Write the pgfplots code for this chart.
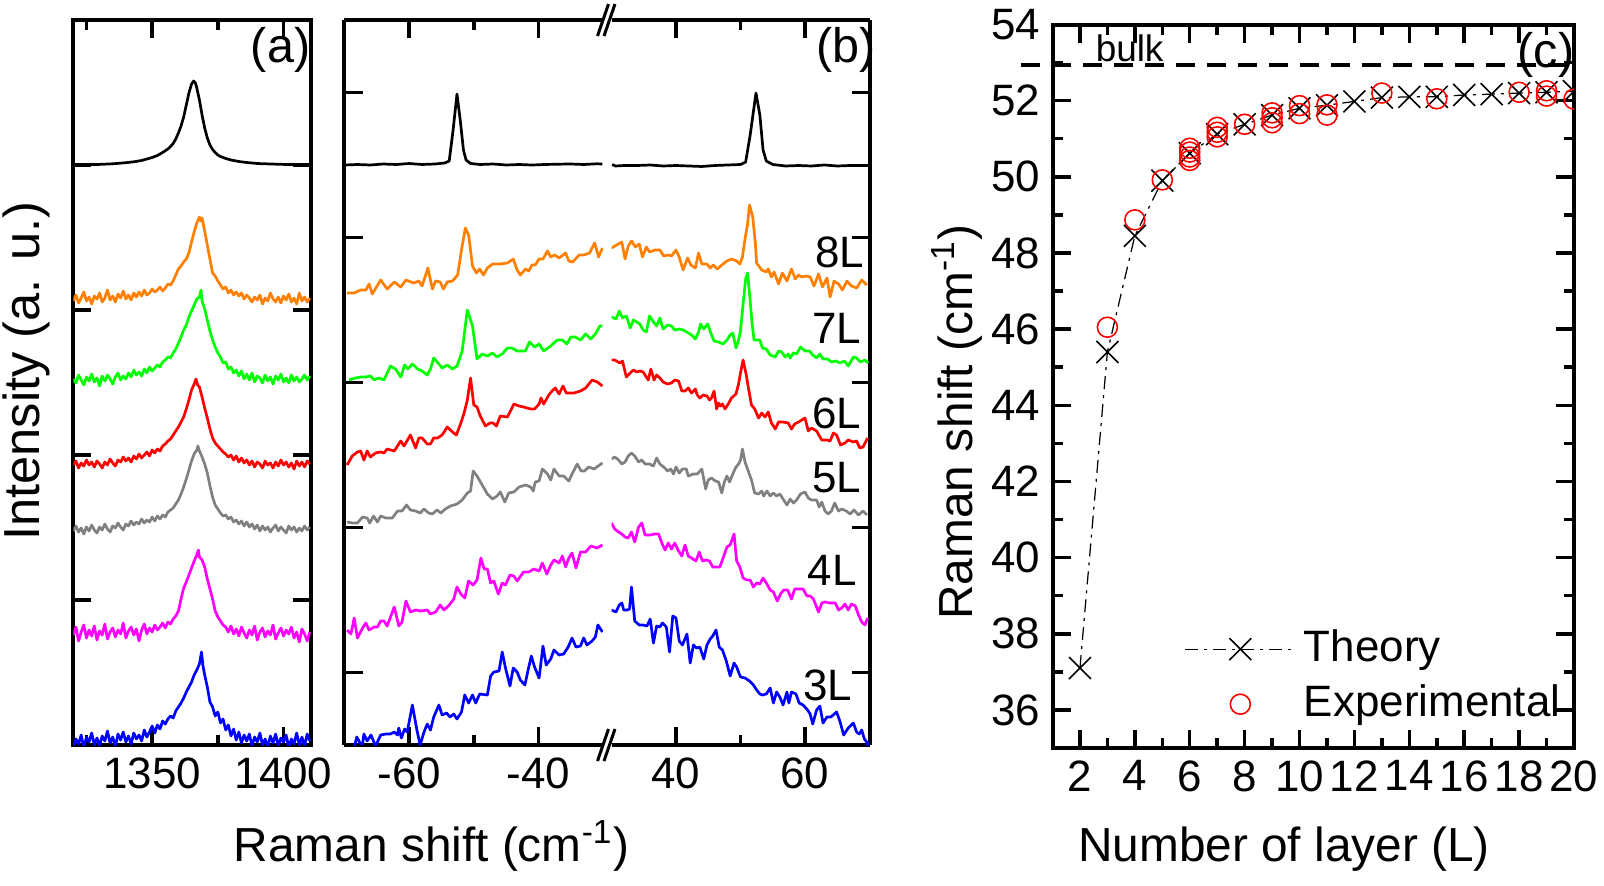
\documentclass[border=0pt]{standalone}
\usepackage{fontspec}
\setmainfont{Liberation Sans}
\usepackage{pgfplots}
\pgfplotsset{compat=1.18}
\definecolor{corange}{RGB}{255,128,0}
\definecolor{cgreen}{RGB}{0,255,0}
\definecolor{cred}{RGB}{255,0,0}
\definecolor{cgray}{RGB}{128,128,128}
\definecolor{cmag}{RGB}{255,0,255}
\definecolor{cblue}{RGB}{0,0,255}
\newcommand{\fs}{\fontsize{13.8pt}{16pt}\selectfont}
\newcommand{\fst}{\fontsize{13.6pt}{16pt}\selectfont}
\newcommand{\fsk}{\fontsize{12.5pt}{14pt}\selectfont}
\pgfplotsset{
  base/.style={scale only axis, anchor=south west, font=\fs,
    clip mode=individual,
    tick label style={font=\fsk},
    tick align=inside, axis line style={line width=0.4mm},
    every tick/.style={black, line width=0.35mm},
    major tick length=1.8mm, minor tick length=1.0mm},
  trace/.style={line width=0.27mm, line join=round, no markers},
  theoryleg/.style={legend image code/.code={\draw[mark repeat=2, mark phase=2, ##1] plot coordinates {(0cm,0cm) (0.55cm,0cm) (1.1cm,0cm)};}},
  expleg/.style={legend image code/.code={\draw[##1] plot coordinates {(0.55cm,0cm)};}},
}
\begin{document}
\begin{tikzpicture}
\useasboundingbox (0,0) rectangle (160.4mm,88.5mm);
% ---------------- panel (a)
\begin{axis}[base, at={(7.33mm,14.0mm)}, width=23.78mm, height=72.5mm,
  xmin=1320, xmax=1410.5, ymin=0, ymax=725,
  xtick={1350,1400}, xticklabels={1350,1400}, minor xtick={1325,1375},
  ytick={145,290,435,580}, yticklabels={}]
\addplot[trace, black] coordinates {(1320,580) (1325,580.3) (1330,580.6) (1335,581.2) (1340,582.3) (1343,583.2) (1346,584.5) (1348,586) (1350,587.5) (1352,589.5) (1354,592.5) (1356,596) (1357,598.5) (1358,601.5) (1359,606) (1360,612) (1361,619) (1362,628) (1363,640) (1364,652) (1365,661) (1365.8,664) (1366.5,662) (1367,657) (1368,645) (1369,630) (1370,617) (1371,607) (1372,600) (1373,595.5) (1374,592.5) (1375,590) (1376,588.5) (1378,586.5) (1380,585) (1383,583.5) (1386,582.5) (1390,581.5) (1395,581) (1400,580.6) (1405,580.5) (1410.5,580.4)};
\addplot[trace, corange] coordinates {(1320,444) (1321,450) (1322,442) (1323,447) (1324,453) (1325,444) (1326,448) (1327,441) (1328,449) (1329,446) (1330,452) (1331,443) (1332,447) (1333,455) (1334,445) (1335,449) (1336,443) (1337,451) (1338,447) (1339,454) (1340,446) (1341,450) (1342,445) (1343,452) (1344,448) (1345,453) (1346,449) (1347,455) (1348,450) (1349,452) (1350,456) (1351,453) (1352,455) (1353,458) (1354,454) (1355,457) (1356,461) (1357,460) (1358,464) (1359,470) (1360,476) (1361,479) (1362,483) (1363,486) (1364,492) (1365,503) (1366,513) (1367,522) (1368,528) (1368.5,524) (1369,527) (1370,514) (1371,500) (1372,486) (1373,472) (1374,469) (1375,464) (1376,460) (1377,456) (1378,458) (1379,452) (1380,455) (1381,450) (1382,453) (1383,449) (1384,452) (1385,446) (1386,450) (1387,447) (1388,443) (1389,448) (1390,445) (1391,450) (1392,441) (1393,447) (1394,444) (1395,452) (1396,446) (1397,443) (1398,448) (1399,442) (1400,449) (1401,445) (1402,451) (1403,443) (1404,447) (1405,441) (1406,452) (1407,444) (1408,448) (1409,443) (1410,447)};
\addplot[trace, cgreen] coordinates {(1320,366) (1321,362) (1322,370) (1323,365) (1324,360) (1325,368) (1326,364) (1327,371) (1328,363) (1329,367) (1330,359) (1331,369) (1332,364) (1333,370) (1334,366) (1335,361) (1336,368) (1337,372) (1338,365) (1339,369) (1340,366) (1341,372) (1342,368) (1343,375) (1344,370) (1345,373) (1346,369) (1347,376) (1348,372) (1349,378) (1350,374) (1351,377) (1352,380) (1353,378) (1354,383) (1355,385) (1356,388) (1357,387) (1358,392) (1359,396) (1360,402) (1361,408) (1362,415) (1363,420) (1364,428) (1365,434) (1366,440) (1367,446) (1368,448) (1368.6,455) (1369,444) (1370,436) (1371,425) (1372,414) (1373,405) (1374,398) (1375,392) (1376,388) (1377,382) (1378,383) (1379,376) (1380,378) (1381,372) (1382,375) (1383,369) (1384,374) (1385,366) (1386,371) (1387,365) (1388,372) (1389,363) (1390,369) (1391,367) (1392,362) (1393,370) (1394,364) (1395,368) (1396,361) (1397,369) (1398,365) (1399,371) (1400,363) (1401,367) (1402,362) (1403,370) (1404,364) (1405,368) (1406,363) (1407,366) (1408,370) (1409,365) (1410,369)};
\addplot[trace, cred] coordinates {(1320,280) (1321,284) (1322,277) (1323,282) (1324,279) (1325,285) (1326,280) (1327,283) (1328,278) (1329,284) (1330,281) (1331,277) (1332,283) (1333,280) (1334,286) (1335,282) (1336,279) (1337,285) (1338,283) (1339,288) (1340,284) (1341,287) (1342,283) (1343,289) (1344,286) (1345,291) (1346,287) (1347,290) (1348,293) (1349,289) (1350,295) (1351,292) (1352,296) (1353,294) (1354,299) (1355,301) (1356,304) (1357,306) (1358,310) (1359,314) (1360,318) (1361,323) (1362,328) (1363,336) (1364,345) (1365,355) (1366,361) (1366.7,366) (1367.3,360) (1368,358) (1369,348) (1370,337) (1371,327) (1372,316) (1373,307) (1374,302) (1375,299) (1376,296) (1377,293) (1378,291) (1379,288) (1380,290) (1381,285) (1382,289) (1383,283) (1384,287) (1385,282) (1386,285) (1387,280) (1388,284) (1389,278) (1390,283) (1391,281) (1392,277) (1393,284) (1394,280) (1395,282) (1396,277) (1397,283) (1398,279) (1399,285) (1400,280) (1401,283) (1402,278) (1403,282) (1404,276) (1405,284) (1406,279) (1407,283) (1408,278) (1409,284) (1410,281)};
\addplot[trace, cgray] coordinates {(1320,214) (1321,219) (1322,213) (1323,217) (1324,211) (1325,218) (1326,214) (1327,220) (1328,215) (1329,212) (1330,218) (1331,215) (1332,221) (1333,216) (1334,213) (1335,219) (1336,217) (1337,222) (1338,218) (1339,215) (1340,221) (1341,219) (1342,224) (1343,220) (1344,223) (1345,221) (1346,226) (1347,222) (1348,225) (1349,223) (1350,228) (1351,224) (1352,229) (1353,226) (1354,230) (1355,228) (1356,233) (1357,235) (1358,237) (1359,241) (1360,245) (1361,251) (1362,258) (1363,266) (1364,275) (1365,284) (1366,291) (1367,295) (1367.4,299) (1368,294) (1369,288) (1370,281) (1371,272) (1372,259) (1373,248) (1374,240) (1375,236) (1376,232) (1377,229) (1378,230) (1379,226) (1380,228) (1381,223) (1382,225) (1383,221) (1384,224) (1385,219) (1386,223) (1387,218) (1388,221) (1389,216) (1390,220) (1391,214) (1392,219) (1393,215) (1394,218) (1395,213) (1396,217) (1397,220) (1398,214) (1399,218) (1400,215) (1401,212) (1402,219) (1403,215) (1404,218) (1405,213) (1406,217) (1407,214) (1408,219) (1409,215) (1410,218)};
\addplot[trace, cmag] coordinates {(1320,110) (1321,118) (1322,104) (1323,113) (1324,120) (1325,107) (1326,115) (1327,109) (1328,119) (1329,105) (1330,114) (1331,110) (1332,121) (1333,106) (1334,113) (1335,117) (1336,108) (1337,115) (1338,111) (1339,122) (1340,107) (1341,114) (1342,118) (1343,110) (1344,116) (1345,104) (1346,115) (1347,121) (1348,111) (1349,117) (1350,113) (1351,120) (1352,115) (1353,118) (1354,122) (1355,117) (1356,123) (1357,121) (1358,126) (1359,129) (1360,134) (1361,146) (1362,157) (1363,163) (1364,170) (1365,177) (1366,184) (1367,190) (1367.6,195) (1368,188) (1369,185) (1370,178) (1371,166) (1372,156) (1373,146) (1374,134) (1375,128) (1376,124) (1377,120) (1378,118) (1379,113) (1380,119) (1381,111) (1382,116) (1383,109) (1384,118) (1385,112) (1386,107) (1387,115) (1388,110) (1389,119) (1390,105) (1391,113) (1392,117) (1393,108) (1394,114) (1395,110) (1396,120) (1397,106) (1398,112) (1399,117) (1400,109) (1401,115) (1402,111) (1403,118) (1404,107) (1405,113) (1406,103) (1407,116) (1408,111) (1409,104) (1410,113)};
\addplot[trace, cblue] coordinates {(1320,-2) (1321,6) (1322,1) (1323,10) (1324,-3) (1325,8) (1326,3) (1327,12) (1328,0) (1329,7) (1330,-1) (1331,9) (1332,4) (1333,14) (1334,2) (1335,8) (1336,-2) (1337,11) (1338,5) (1339,13) (1340,3) (1341,9) (1342,1) (1343,12) (1344,6) (1345,10) (1346,4) (1347,15) (1348,8) (1349,13) (1350,19) (1351,12) (1352,20) (1353,16) (1354,24) (1355,21) (1356,26) (1357,29) (1358,27) (1359,34) (1360,38) (1361,42) (1362,47) (1363,53) (1364,58) (1365,63) (1366,70) (1367,75) (1368,81) (1368.8,93) (1369.3,80) (1370,70) (1371,58) (1372,43) (1373,38) (1374,29) (1375,33) (1376,22) (1377,26) (1378,15) (1379,20) (1380,9) (1381,16) (1382,5) (1383,13) (1384,2) (1385,10) (1386,4) (1387,11) (1388,-1) (1389,8) (1390,3) (1391,12) (1392,0) (1393,6) (1394,-2) (1395,9) (1396,2) (1397,11) (1398,-1) (1399,7) (1400,3) (1401,10) (1402,-2) (1403,6) (1404,1) (1405,12) (1406,0) (1407,8) (1408,-1) (1409,11) (1410,4)};
\node at (axis cs:1398.9,695) {(a)};
\end{axis}
% ---------------- panel (b) left half
\begin{axis}[base, at={(34.45mm,14.0mm)}, width=25.86mm, height=72.5mm,
  axis x line*=box, axis y line*=left,
  xmin=-70, xmax=-30, ymin=0, ymax=725,
  xtick={-60,-40}, xticklabels={-60,-40}, minor xtick={-50},
  ytick={72.5,217.5,362.5,507.5,652.5}, yticklabels={}]
\addplot[trace, black] coordinates {(-70,580) (-68,580.5) (-66,580) (-64,581) (-62,580.5) (-60,581.5) (-58,580.5) (-56,581) (-54.5,582) (-53.8,584) (-53.2,615) (-52.6,651) (-52.1,625) (-51.6,595) (-51.2,585) (-50.5,581.5) (-49,580.5) (-47,581) (-45,580) (-43,580.5) (-41,580) (-39,580.5) (-37,580.8) (-35,581) (-33,580.5) (-31,581.2) (-30.1,581)};
\addplot[trace, corange] coordinates {(-69.6,452) (-68.5,452) (-67.5,455) (-66.7,455) (-66.2,461) (-65.7,451) (-64.4,465) (-63.4,456) (-62.3,463) (-61.3,458) (-60.5,465) (-59.3,462) (-58.5,464) (-58.0,459) (-57.1,477) (-56.4,456) (-55.9,464) (-55.2,463) (-54.7,456) (-54.1,463) (-53.3,464) (-52.5,470) (-51.8,499) (-51.3,517) (-50.8,510) (-50.2,479) (-49.6,472) (-49.1,476) (-48.5,470) (-47.9,477) (-47.1,481) (-45.9,481) (-44.8,482) (-43.9,486) (-43.3,475) (-42.8,470) (-42.0,476) (-41.5,474) (-41.0,480) (-40.5,480) (-39.9,486) (-39.3,486) (-38.6,494) (-38.1,488) (-37.5,490) (-36.8,487) (-35.8,492) (-35.3,484) (-34.7,483) (-33.7,490) (-33.0,490) (-32.1,492) (-31.3,502) (-30.7,488) (-30.1,497)};
\addplot[trace, cgreen] coordinates {(-69.3,365) (-68.3,367) (-67.5,368) (-66.7,368) (-66.0,369) (-65.4,365) (-64.7,367) (-63.9,365) (-62.9,379) (-62.1,376) (-61.3,368) (-60.7,380) (-60.2,376) (-59.5,381) (-58.7,376) (-58.0,374) (-57.2,370) (-56.7,376) (-56.2,387) (-55.4,381) (-54.9,377) (-54.1,380) (-53.3,376) (-52.6,379) (-51.8,394) (-51.0,435) (-50.2,419) (-49.5,386) (-48.7,391) (-47.9,389) (-47.1,392) (-46.4,388) (-45.6,391) (-44.8,397) (-44.1,397) (-43.3,394) (-42.0,394) (-41.4,403) (-40.6,398) (-39.9,401) (-39.2,394) (-38.1,399) (-37.1,405) (-36.3,405) (-35.6,401) (-35.0,408) (-34.3,408) (-33.5,405) (-32.7,411) (-31.9,406) (-31.2,411) (-30.5,419) (-30.1,419)};
\addplot[trace, cred] coordinates {(-69.6,280) (-68.8,289) (-68.0,293) (-67.5,294) (-67.0,285) (-66.5,294) (-66.0,288) (-65.2,292) (-64.4,293) (-63.9,292) (-63.4,296) (-62.3,294) (-61.3,304) (-60.8,299) (-59.8,310) (-59.0,297) (-58.5,307) (-58.0,307) (-57.2,301) (-56.7,301) (-56.2,307) (-55.6,307) (-54.9,310) (-54.1,318) (-53.3,313) (-52.7,310) (-52.0,322) (-51.5,332) (-51.0,345) (-50.5,367) (-50.0,340) (-49.5,338) (-49.0,329) (-48.2,319) (-47.5,322) (-47.0,322) (-46.5,319) (-45.9,329) (-44.8,328) (-43.8,341) (-43.0,339) (-42.3,338) (-41.2,336) (-40.6,336) (-39.9,341) (-39.6,347) (-39.2,341) (-38.4,350) (-37.9,354) (-37.4,357) (-36.8,351) (-36.2,359) (-35.7,352) (-34.5,352) (-33.5,354) (-32.7,357) (-31.7,365) (-30.9,363) (-30.1,359)};
\addplot[trace, cgray] coordinates {(-69.6,223) (-68.8,222) (-68.0,222) (-67.2,228) (-66.5,227) (-66.1,222) (-65.5,229) (-64.9,223) (-64.4,229) (-63.6,227) (-62.6,227) (-61.8,234) (-61.1,234) (-60.4,240) (-59.8,235) (-59.0,234) (-58.3,232) (-57.7,236) (-57.0,232) (-56.4,231) (-55.7,235) (-55.1,232) (-54.4,236) (-53.6,239) (-52.6,241) (-51.8,245) (-51.0,252) (-50.5,254) (-50.1,274) (-49.5,269) (-48.7,260) (-47.9,251) (-47.1,246) (-46.4,249) (-45.9,253) (-45.2,243) (-44.6,252) (-43.8,253) (-43.0,258) (-42.0,260) (-41.2,258) (-40.8,254) (-40.5,263) (-39.9,264) (-39.4,276) (-38.6,271) (-38.1,265) (-37.6,276) (-36.8,269) (-36.1,269) (-35.3,264) (-34.8,271) (-34.0,281) (-33.4,274) (-32.9,274) (-32.2,278) (-31.4,276) (-30.1,282)};
\addplot[trace, cmag] coordinates {(-69.6,115) (-69.0,111) (-68.5,127) (-68.0,107) (-67.2,117) (-66.7,122) (-66.2,115) (-65.4,118) (-64.9,118) (-64.4,124) (-63.9,124) (-63.4,119) (-62.3,138) (-61.6,119) (-61.1,123) (-60.5,144) (-59.8,133) (-59.0,135) (-58.2,134) (-57.2,135) (-56.7,131) (-55.9,133) (-55.2,140) (-54.6,135) (-53.8,140) (-53.1,146) (-52.6,158) (-52.0,151) (-51.4,147) (-50.8,164) (-50.1,160) (-49.5,165) (-48.9,187) (-48.4,176) (-47.9,176) (-47.4,162) (-46.9,164) (-46.2,151) (-45.6,162) (-45.1,160) (-44.4,170) (-43.8,169) (-43.3,164) (-42.3,173) (-41.5,173) (-40.7,176) (-39.9,174) (-39.4,182) (-38.7,171) (-38.1,180) (-37.6,185) (-36.8,182) (-36.3,189) (-35.8,178) (-35.3,187) (-34.8,192) (-34.2,177) (-33.5,193) (-32.7,193) (-31.9,199) (-30.9,197) (-30.1,200)};
\addplot[trace, cblue] coordinates {(-70,-20) (-68.8,-10) (-68.1,8) (-67.6,2) (-67.2,1) (-67.0,11) (-66.5,4) (-65.9,10) (-65.2,-1) (-64.4,10) (-63.6,11) (-62.9,11) (-62.3,13) (-61.8,10) (-61.6,17) (-61.2,7) (-60.7,16) (-60.3,13) (-59.5,40) (-58.8,15) (-58.3,0) (-57.7,13) (-57.2,21) (-56.7,15) (-56.2,28) (-55.4,40) (-54.9,30) (-54.2,32) (-53.7,28) (-53.1,31) (-52.6,26) (-51.9,33) (-51.4,50) (-50.8,42) (-50.2,50) (-49.7,42) (-49.1,51) (-47.9,50) (-47.4,69) (-46.9,73) (-46.1,74) (-45.6,93) (-45.1,77) (-44.4,59) (-43.9,77) (-43.3,73) (-42.8,65) (-42.1,60) (-41.6,75) (-41.1,89) (-40.6,78) (-39.9,67) (-39.3,99) (-38.8,80) (-38.1,86) (-37.6,95) (-36.8,90) (-36.1,91) (-35.4,98) (-34.8,107) (-34.2,98) (-33.5,99) (-33.0,107) (-32.5,100) (-31.7,104) (-31.2,108) (-30.8,120) (-30.1,113)};
\end{axis}
% ---------------- panel (b) right half
\begin{axis}[base, at={(61.15mm,14.0mm)}, width=25.8mm, height=72.5mm,
  axis x line*=box, axis y line*=right,
  xmin=30, xmax=70, ymin=0, ymax=725,
  xtick={40,60}, xticklabels={40,60}, minor xtick={50},
  ytick={72.5,217.5,362.5,507.5,652.5}, yticklabels={}]
\addplot[trace, black] coordinates {(30.1,580.5) (30.6,579) (32,579.5) (34,579.5) (36,580) (38,579) (40,579.5) (42,579) (44,578.5) (46,579.5) (48,580) (50,580.5) (50.8,583) (51.5,610) (52.4,652) (53,630) (53.5,595) (54,584) (55,580.5) (57,579) (59,579.5) (61,579) (63,580) (65,579) (67,579.5) (69,579.5) (70,579.5)};
\addplot[trace, corange] coordinates {(30.0,497) (30.8,500) (31.6,503) (32.1,486) (32.6,499) (33.1,504) (33.7,498) (34.3,501) (34.8,488) (35.4,498) (35.9,493) (36.7,495) (37.5,495) (38.1,489) (38.8,490) (39.3,489) (40.0,495) (40.5,488) (41.1,475) (41.8,487) (42.3,480) (43.0,477) (43.5,492) (44.0,481) (44.8,481) (45.3,477) (45.8,480) (46.4,476) (47.1,480) (47.9,484) (48.6,486) (49.4,484) (49.9,481) (50.3,488) (50.7,506) (51.1,521) (51.4,540) (51.9,528) (52.3,502) (52.5,482) (53.3,475) (54.0,473) (54.3,476) (54.8,468) (55.2,473) (55.9,461) (56.5,472) (57.2,464) (57.9,476) (58.5,466) (59.0,470) (59.5,468) (60.2,469) (60.8,468) (61.4,459) (62.1,471) (62.7,458) (63.4,467) (63.9,448) (64.5,464) (65.2,461) (65.8,455) (66.5,464) (67.2,459) (68.0,457) (68.8,465) (69.6,460)};
\addplot[trace, cgreen] coordinates {(30.0,428) (30.7,426) (31.2,434) (31.7,427) (32.3,429) (32.9,417) (33.4,425) (33.9,423) (34.4,421) (34.9,415) (35.4,413) (35.9,429) (36.5,423) (37.0,419) (37.5,427) (38.0,416) (38.7,420) (39.3,419) (39.8,415) (40.5,416) (41.1,415) (41.9,412) (42.4,410) (43.0,406) (43.5,413) (43.8,421) (44.3,416) (44.9,421) (45.4,412) (45.9,404) (46.6,403) (47.3,401) (47.9,405) (48.4,410) (48.8,412) (49.3,397) (49.7,405) (50.0,414) (50.4,441) (50.8,466) (51.1,472) (51.5,444) (51.8,421) (52.1,405) (52.5,405) (53.0,405) (53.4,397) (54.0,396) (54.6,390) (55.4,388) (55.9,394) (56.4,393) (56.9,388) (57.4,391) (57.7,387) (58.2,392) (58.7,391) (59.3,398) (60.0,394) (60.7,394) (61.2,390) (61.8,387) (62.3,391) (62.8,386) (63.5,386) (64.1,383) (64.8,384) (65.4,382) (66.1,384) (66.7,379) (67.5,388) (68.0,387) (68.6,383) (69.3,385) (69.8,382)};
\addplot[trace, cred] coordinates {(30.0,385) (30.5,385) (31.3,382) (31.7,384) (32.3,368) (32.9,372) (33.4,375) (33.9,373) (34.4,374) (34.9,373) (35.4,368) (35.7,365) (36.1,376) (36.6,365) (37.0,370) (37.5,367) (38.0,363) (38.7,361) (39.3,362) (39.8,365) (40.4,364) (40.9,354) (41.4,354) (41.9,357) (42.4,352) (43.0,356) (43.3,350) (43.7,347) (44.2,350) (44.8,349) (45.2,345) (45.5,347) (45.9,354) (46.3,336) (46.6,342) (46.9,339) (47.2,341) (47.6,336) (48.1,341) (48.6,347) (49.3,351) (49.7,361) (50.0,372) (50.4,385) (50.9,370) (51.2,358) (51.7,340) (52.2,336) (52.8,327) (53.3,332) (53.8,328) (54.3,333) (54.8,322) (55.4,316) (55.9,323) (56.6,323) (57.4,322) (57.9,316) (58.4,321) (59.0,323) (60.0,327) (60.5,314) (61.0,317) (61.8,314) (62.6,305) (63.4,305) (63.9,304) (64.4,312) (64.9,310) (65.5,300) (66.2,302) (66.7,305) (67.5,303) (68.0,304) (68.5,297) (69.0,298) (69.7,307)};
\addplot[trace, cgray] coordinates {(30.0,286) (30.5,288) (31.1,285) (31.6,281) (32.1,283) (32.6,289) (33.1,292) (33.6,289) (34.2,283) (34.7,285) (35.2,281) (35.9,281) (36.5,279) (37.0,287) (37.5,281) (38.1,278) (38.7,274) (39.2,276) (39.6,271) (40.0,278) (40.5,272) (41.0,276) (41.6,276) (41.9,269) (42.7,271) (43.3,271) (44.0,276) (44.6,256) (45.0,265) (45.5,267) (46.1,264) (46.6,263) (47.1,252) (47.5,263) (47.9,269) (48.3,263) (48.8,271) (49.3,278) (49.7,281) (50.0,285) (50.3,296) (50.7,283) (51.2,274) (51.7,265) (52.2,252) (52.8,251) (53.3,254) (53.6,249) (54.1,254) (54.6,249) (55.1,252) (55.6,249) (56.1,251) (56.6,246) (57.2,240) (57.7,246) (58.2,242) (58.7,245) (59.3,251) (60.0,253) (60.5,247) (61.0,245) (61.8,245) (62.2,238) (62.6,243) (63.1,234) (63.6,231) (64.1,234) (64.6,242) (65.2,234) (65.7,236) (66.4,234) (67.0,231) (67.6,235) (68.3,230) (69.0,234) (69.6,230)};
\addplot[trace, cmag] coordinates {(30.0,222) (30.5,216) (31.1,213) (31.6,211) (32.1,208) (32.6,207) (33.1,213) (33.6,203) (34.2,218) (34.7,222) (35.2,210) (36.0,210) (36.7,211) (37.3,211) (37.8,202) (38.3,195) (38.8,202) (39.3,196) (39.8,202) (40.4,194) (40.9,189) (41.4,200) (41.9,189) (42.4,187) (43.1,184) (43.6,193) (44.1,184) (44.7,185) (45.2,184) (45.7,178) (46.3,178) (46.8,178) (47.3,187) (47.9,198) (48.4,200) (49.0,211) (49.4,184) (49.9,178) (50.4,167) (51.0,165) (51.5,165) (52.0,158) (52.5,162) (53.0,161) (53.5,167) (54.1,161) (54.6,155) (55.1,153) (55.7,144) (56.2,151) (56.7,155) (57.3,155) (57.9,146) (58.4,156) (59.0,156) (59.7,156) (60.3,149) (60.8,149) (61.3,146) (62.1,133) (62.6,142) (63.1,143) (63.9,142) (64.7,142) (65.2,135) (65.7,137) (66.2,141) (66.7,135) (67.2,141) (67.8,139) (68.3,130) (68.8,123) (69.3,120) (69.7,127)};
\addplot[trace, cblue] coordinates {(30.0,135) (30.7,133) (31.2,140) (31.6,142) (31.9,135) (32.4,135) (32.8,136) (33.1,158) (33.6,124) (34.3,120) (34.9,120) (35.5,119) (36.0,126) (36.5,102) (37.0,119) (37.5,118) (37.9,122) (38.5,118) (39.0,93) (39.5,129) (40.0,127) (40.5,104) (41.0,100) (41.7,111) (42.2,82) (42.7,100) (43.2,97) (43.7,98) (44.3,86) (44.8,100) (45.3,106) (45.7,109) (46.2,115) (46.7,98) (47.2,95) (47.8,84) (48.4,69) (49.0,82) (49.4,78) (50.0,68) (50.7,67) (51.4,64) (52.0,60) (52.5,55) (53.0,51) (53.4,50) (54.0,51) (54.6,57) (55.1,42) (55.6,53) (56.1,48) (56.6,40) (57.2,53) (57.5,42) (57.9,53) (58.6,51) (59.1,42) (59.7,40) (60.4,35) (60.8,31) (61.2,21) (61.8,35) (62.3,39) (62.8,22) (63.4,28) (64.0,28) (64.9,33) (65.4,24) (66.0,10) (66.7,17) (67.5,22) (68.0,13) (68.4,11) (68.8,15) (69.2,6) (69.7,2) (69.8,-5)};
\node[anchor=east, inner sep=0pt, font=\fsk] at (axis cs:69.3,493) {8L};
\node[anchor=east, inner sep=0pt, font=\fsk] at (axis cs:68.8,417) {7L};
\node[anchor=east, inner sep=0pt, font=\fsk] at (axis cs:68.8,332) {6L};
\node[anchor=east, inner sep=0pt, font=\fsk] at (axis cs:68.8,267) {5L};
\node[anchor=east, inner sep=0pt, font=\fsk] at (axis cs:68.1,175) {4L};
\node[anchor=east, inner sep=0pt, font=\fsk] at (axis cs:67.4,60) {3L};
\node at (axis cs:66.4,695) {(b)};
\end{axis}
% axis break marks
\draw[line width=0.3mm] (59.75mm,12.4mm) -- (60.85mm,15.6mm) (60.4mm,12.4mm) -- (61.5mm,15.6mm);
\draw[line width=0.3mm] (59.75mm,84.9mm) -- (60.85mm,88.1mm) (60.4mm,84.9mm) -- (61.5mm,88.1mm);
% labels
\node[font=\fontsize{14.4pt}{17pt}\selectfont, rotate=90] at (2.6mm,51.4mm) {Intensity (a. u.)};
\node[font=\fst] at (43.15mm,3.9mm) {Raman shift (cm\textsuperscript{-1})};
% ---------------- panel (c)
\begin{axis}[base, at={(105.25mm,13.7mm)}, width=52.15mm, height=72.35mm,
  clip marker paths=true,
  xmin=1, xmax=20, ymin=35, ymax=54,
  xtick={2,4,...,20}, xticklabels={2,4,6,8,10,12,14,16,18,20},
  minor xtick={3,5,...,19},
  ytick={36,38,...,54}, yticklabels={36,38,40,42,44,46,48,50,52,54},
  minor ytick={37,39,...,53},
  legend style={draw=none, fill=none, at={(0.2522,0.1742)}, anchor=north west,
    inner xsep=0pt, inner ysep=0pt, row sep=0.2mm, column sep=0.3mm, font=\fsk,
    nodes={inner sep=0.5mm, text height=3.4mm, text depth=0.9mm}},
  legend cell align=left]
\addplot[black, line width=0.35pt, dash pattern=on 1.3mm off 0.6mm on 0.3mm off 0.6mm,
  mark=x, mark size=1.55mm, mark options={solid, line width=0.45pt}, theoryleg]
  coordinates {(2,37.1) (3,45.4) (4,48.45) (5,49.9) (6,50.62) (7,51.12) (8,51.38) (9,51.62) (10,51.8) (11,51.88) (12,51.98) (13,52.08) (14,52.1) (15,52.1) (16,52.15) (17,52.17) (18,52.2) (19,52.22) (20,52.25)};
\addlegendentry{Theory}
\addplot[only marks, red, mark=o, mark size=1.0mm, mark options={line width=0.45pt}, expleg]
  coordinates {(3,46.05) (4,48.87) (5,49.92) (6,50.75) (6,50.65) (6,50.52) (6,50.43) (7,51.3) (7,51.17) (7,51.05) (8,51.38) (9,51.68) (9,51.55) (9,51.42) (10,51.87) (10,51.66) (11,51.89) (11,51.62) (13,52.2) (15,52.05) (18,52.22) (19,52.26) (19,52.12) (20,52.04)};
\addlegendentry{Experimental}
\draw[line width=0.4mm, dash pattern=on 1.9mm off 1.2mm] (axis cs:-0.15,52.93) -- (axis cs:20,52.93);
\node[anchor=base west, inner sep=0pt, font=\fontsize{10.5pt}{12pt}\selectfont] at (axis cs:2.55,53.04) {bulk};
\node at (axis cs:18.98,53.2) {(c)};
\end{axis}
\node[font=\fst] at (128.4mm,3.6mm) {Number of layer (L)};
\node[font=\fst, rotate=90] at (95.7mm,46.3mm) {Raman shift (cm\textsuperscript{-1})};
\end{tikzpicture}
\end{document}
